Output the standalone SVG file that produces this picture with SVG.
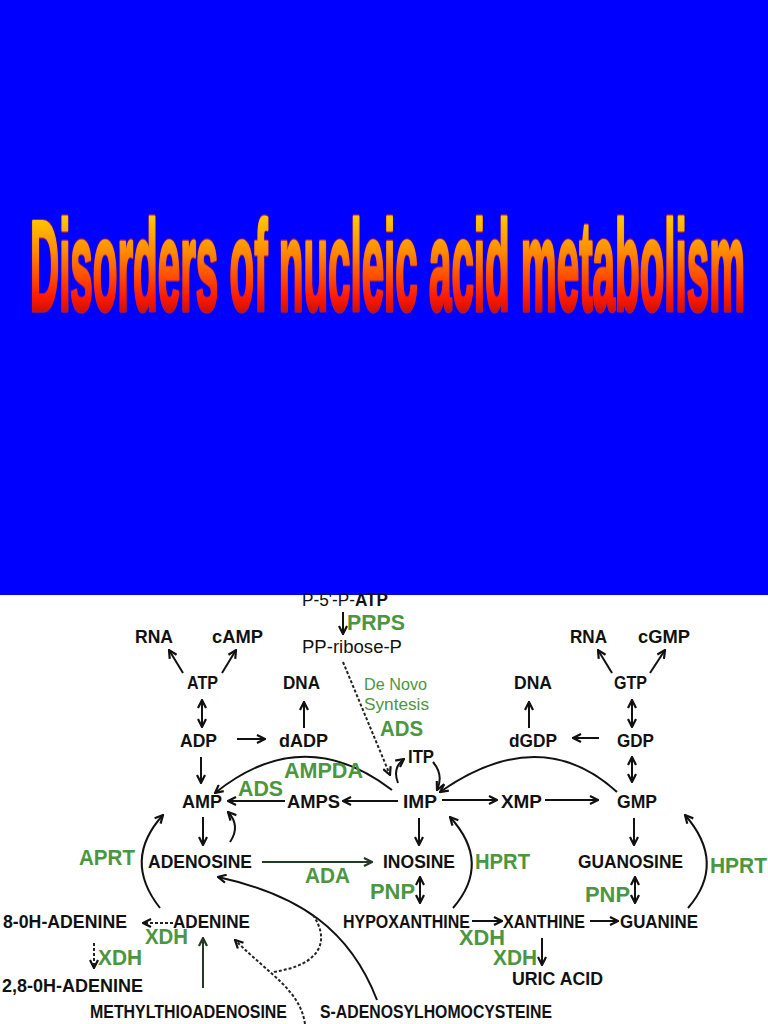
<svg xmlns="http://www.w3.org/2000/svg" width="768" height="1024" viewBox="0 0 768 1024">
<defs>
<linearGradient id="tg" gradientUnits="objectBoundingBox" x1="0" y1="0" x2="0" y2="1">
<stop offset="0.05" stop-color="#ffe400"/>
<stop offset="0.4" stop-color="#ff8c00"/>
<stop offset="0.72" stop-color="#ff1a00"/>
<stop offset="1" stop-color="#7a0000"/>
</linearGradient>
<marker id="ah" viewBox="0 0 10 10" refX="9" refY="5" markerWidth="10" markerHeight="10" markerUnits="userSpaceOnUse" orient="auto-start-reverse">
<path d="M1,1 L9,5 L1,9" fill="none" stroke="#111" stroke-width="2.2" stroke-linejoin="miter"/>
</marker>
<marker id="ahg" viewBox="0 0 10 10" refX="9" refY="5" markerWidth="10" markerHeight="10" markerUnits="userSpaceOnUse" orient="auto-start-reverse">
<path d="M1,1 L9,5 L1,9" fill="none" stroke="#243a24" stroke-width="2.2"/>
</marker>
</defs>
<style>
.t{font-family:"Liberation Sans",Arial,sans-serif;font-weight:bold;font-size:17.5px;fill:#111;text-anchor:middle}
.r{font-family:"Liberation Sans",Arial,sans-serif;font-size:17.5px;fill:#111;text-anchor:middle}
.g{font-family:"Liberation Sans",Arial,sans-serif;font-weight:bold;font-size:22px;fill:#4b963e;text-anchor:middle}
.gr{font-family:"Liberation Sans",Arial,sans-serif;font-size:16.5px;fill:#4b963e;text-anchor:middle}
.ttl{font-family:"Liberation Sans",Arial,sans-serif;font-weight:bold;font-size:40px}
.c{fill:none;stroke:#111;stroke-width:2;marker-end:url(#ah)}
.d{fill:none;stroke:#111;stroke-width:2;marker-end:url(#ah);marker-start:url(#ah)}
.cd{fill:none;stroke:#222;stroke-width:2;stroke-dasharray:3 2;marker-end:url(#ah)}
.cg{fill:none;stroke:#243a24;stroke-width:2;marker-end:url(#ahg)}
.pl{fill:none;stroke:#222;stroke-width:2;stroke-dasharray:3 2}
</style>
<rect x="0" y="0" width="768" height="595" fill="#0000ff"/>
<rect x="0" y="595" width="768" height="429" fill="#ffffff"/>
<g id="title" transform="translate(30,310) scale(1,3.2)">
<text class="ttl" x="0" y="0" textLength="715" lengthAdjust="spacingAndGlyphs" fill="url(#tg)" stroke="#a01c5c" stroke-width="4" stroke-linejoin="round" vector-effect="non-scaling-stroke">Disorders of nucleic acid metabolism</text>
<text class="ttl" x="0" y="0" textLength="715" lengthAdjust="spacingAndGlyphs" fill="url(#tg)" stroke="url(#tg)" stroke-width="2.4" stroke-linejoin="round" vector-effect="non-scaling-stroke">Disorders of nucleic acid metabolism</text>
</g>
<g id="connectors">
<path class="c" d="M183,673 L169,650"/>
<path class="c" d="M222,673 L236,650"/>
<path class="d" d="M202,700 L202,727"/>
<path class="c" d="M237,739 L265,739"/>
<path class="c" d="M304,728 L304,702"/>
<path class="c" d="M201,757 L201,783"/>
<path class="c" d="M392,790 Q303,722 215,793"/>
<path class="c" d="M398,801 L343,801"/>
<path class="c" d="M285,801 L228,801"/>
<path class="cd" d="M343,662 L390,775"/>
<path class="c" d="M398,783 Q392,768 404,759"/>
<path class="c" d="M433,762 Q444,775 437,790"/>
<path class="c" d="M617,792 Q540,722 440,792"/>
<path class="c" d="M442,800 L497,800"/>
<path class="c" d="M545,800 L598,800"/>
<path class="c" d="M599,738 L573,738"/>
<path class="c" d="M529,728 L529,702"/>
<path class="c" d="M612,673 L598,650"/>
<path class="c" d="M650,673 L665,650"/>
<path class="d" d="M632,700 L632,727"/>
<path class="d" d="M632,757 L632,782"/>
<path class="c" d="M343,612 L343,634"/>
<path class="c" d="M203,817 L203,845"/>
<path class="c" d="M230,842 Q241,826 228,812"/>
<path class="c" d="M160,908 Q122,860 163,815"/>
<path class="cg" d="M262,862 L372,862"/>
<path class="c" d="M419,818 L419,845"/>
<path class="d" d="M420,877 L420,903"/>
<path class="c" d="M453,908 Q492,863 450,817"/>
<path class="c" d="M472,921 L502,921"/>
<path class="c" d="M590,921 L618,921"/>
<path class="c" d="M542,938 L542,965"/>
<path class="c" d="M634,818 L634,845"/>
<path class="d" d="M635,877 L635,903"/>
<path class="c" d="M688,908 Q727,863 685,815"/>
<path class="cd" d="M173,923 L143,923"/>
<path class="cd" d="M94,943 L94,968"/>
<path class="cg" d="M203,988 L203,938"/>
<path class="c" d="M377,1000 C350,930 300,895 218,877"/>
<path class="cd" d="M305,1024 C300,990 270,975 235,940"/>
<path class="pl" d="M313,915 C330,940 322,965 273,972"/>
</g>
<g id="n-p5patp"><text class="r" x="345" y="606" textLength="86" lengthAdjust="spacingAndGlyphs">P-5'-P-<tspan font-weight="bold">ATP</tspan></text></g>
<g id="n-prps"><text class="g" x="376" y="630" textLength="58" lengthAdjust="spacingAndGlyphs">PRPS</text></g>
<g id="n-ppribose"><text class="r" x="352" y="653" textLength="100" lengthAdjust="spacingAndGlyphs">PP-ribose-P</text></g>
<g id="n-denovo"><text class="gr" x="395.5" y="690" textLength="63" lengthAdjust="spacingAndGlyphs">De Novo</text><text class="gr" x="396.5" y="710" textLength="65" lengthAdjust="spacingAndGlyphs">Syntesis</text></g>
<g id="n-ads1"><text class="g" x="401.5" y="736" textLength="43" lengthAdjust="spacingAndGlyphs">ADS</text></g>
<g id="n-rna1"><text class="t" x="154" y="643" textLength="38" lengthAdjust="spacingAndGlyphs">RNA</text></g>
<g id="n-camp"><text class="t" x="237.5" y="643" textLength="51" lengthAdjust="spacingAndGlyphs">cAMP</text></g>
<g id="n-atp"><text class="t" x="202.5" y="689" textLength="31" lengthAdjust="spacingAndGlyphs">ATP</text></g>
<g id="n-dna1"><text class="t" x="301.5" y="689" textLength="37" lengthAdjust="spacingAndGlyphs">DNA</text></g>
<g id="n-adp"><text class="t" x="198.5" y="747" textLength="37" lengthAdjust="spacingAndGlyphs">ADP</text></g>
<g id="n-dadp"><text class="t" x="303.5" y="747" textLength="49" lengthAdjust="spacingAndGlyphs">dADP</text></g>
<g id="n-ampda"><text class="g" x="323.5" y="778" textLength="79" lengthAdjust="spacingAndGlyphs">AMPDA</text></g>
<g id="n-ads2"><text class="g" x="260.5" y="796" textLength="45" lengthAdjust="spacingAndGlyphs">ADS</text></g>
<g id="n-amp"><text class="t" x="202" y="808" textLength="40" lengthAdjust="spacingAndGlyphs">AMP</text></g>
<g id="n-amps"><text class="t" x="313.5" y="808" textLength="53" lengthAdjust="spacingAndGlyphs">AMPS</text></g>
<g id="n-itp"><text class="t" x="421" y="763" textLength="26" lengthAdjust="spacingAndGlyphs">ITP</text></g>
<g id="n-imp"><text class="t" x="420" y="808" textLength="34" lengthAdjust="spacingAndGlyphs">IMP</text></g>
<g id="n-xmp"><text class="t" x="521.5" y="808" textLength="41" lengthAdjust="spacingAndGlyphs">XMP</text></g>
<g id="n-gmp"><text class="t" x="637" y="808" textLength="40" lengthAdjust="spacingAndGlyphs">GMP</text></g>
<g id="n-rna2"><text class="t" x="588.5" y="643" textLength="37" lengthAdjust="spacingAndGlyphs">RNA</text></g>
<g id="n-cgmp"><text class="t" x="664" y="643" textLength="52" lengthAdjust="spacingAndGlyphs">cGMP</text></g>
<g id="n-gtp"><text class="t" x="630.5" y="689" textLength="33" lengthAdjust="spacingAndGlyphs">GTP</text></g>
<g id="n-dna2"><text class="t" x="533" y="689" textLength="38" lengthAdjust="spacingAndGlyphs">DNA</text></g>
<g id="n-dgdp"><text class="t" x="533" y="747" textLength="48" lengthAdjust="spacingAndGlyphs">dGDP</text></g>
<g id="n-gdp"><text class="t" x="635.5" y="747" textLength="37" lengthAdjust="spacingAndGlyphs">GDP</text></g>
<g id="n-aprt"><text class="g" x="107" y="865" textLength="56" lengthAdjust="spacingAndGlyphs">APRT</text></g>
<g id="n-adenosine"><text class="t" x="200" y="868" textLength="104" lengthAdjust="spacingAndGlyphs">ADENOSINE</text></g>
<g id="n-ada"><text class="g" x="327.5" y="883" textLength="45" lengthAdjust="spacingAndGlyphs">ADA</text></g>
<g id="n-inosine"><text class="t" x="419" y="868" textLength="72" lengthAdjust="spacingAndGlyphs">INOSINE</text></g>
<g id="n-hprt1"><text class="g" x="502.5" y="869" textLength="55" lengthAdjust="spacingAndGlyphs">HPRT</text></g>
<g id="n-guanosine"><text class="t" x="630.5" y="868" textLength="105" lengthAdjust="spacingAndGlyphs">GUANOSINE</text></g>
<g id="n-hprt2"><text class="g" x="738.5" y="873" textLength="57" lengthAdjust="spacingAndGlyphs">HPRT</text></g>
<g id="n-pnp1"><text class="g" x="392.5" y="899" textLength="45" lengthAdjust="spacingAndGlyphs">PNP</text></g>
<g id="n-pnp2"><text class="g" x="607.5" y="902" textLength="45" lengthAdjust="spacingAndGlyphs">PNP</text></g>
<g id="n-8ohadenine"><text class="t" x="65" y="928" textLength="124" lengthAdjust="spacingAndGlyphs">8-0H-ADENINE</text></g>
<g id="n-adenine"><text class="t" x="211.5" y="928" textLength="77" lengthAdjust="spacingAndGlyphs">ADENINE</text></g>
<g id="n-hypoxanthine"><text class="t" x="406.5" y="928" textLength="127" lengthAdjust="spacingAndGlyphs">HYPOXANTHINE</text></g>
<g id="n-xanthine"><text class="t" x="544" y="928" textLength="82" lengthAdjust="spacingAndGlyphs">XANTHINE</text></g>
<g id="n-guanine"><text class="t" x="659" y="928" textLength="78" lengthAdjust="spacingAndGlyphs">GUANINE</text></g>
<g id="n-xdh1"><text class="g" x="166.5" y="944" textLength="43" lengthAdjust="spacingAndGlyphs">XDH</text></g>
<g id="n-xdh2"><text class="g" x="120" y="965" textLength="44" lengthAdjust="spacingAndGlyphs">XDH</text></g>
<g id="n-xdh3"><text class="g" x="482" y="945" textLength="46" lengthAdjust="spacingAndGlyphs">XDH</text></g>
<g id="n-xdh4"><text class="g" x="515" y="965" textLength="44" lengthAdjust="spacingAndGlyphs">XDH</text></g>
<g id="n-28ohadenine"><text class="t" x="72.5" y="992" textLength="141" lengthAdjust="spacingAndGlyphs">2,8-0H-ADENINE</text></g>
<g id="n-uricacid"><text class="t" x="557.5" y="985" textLength="91" lengthAdjust="spacingAndGlyphs">URIC ACID</text></g>
<g id="n-mta"><text class="t" x="188.5" y="1018" textLength="197" lengthAdjust="spacingAndGlyphs">METHYLTHIOADENOSINE</text></g>
<g id="n-sah"><text class="t" x="436" y="1018" textLength="232" lengthAdjust="spacingAndGlyphs">S-ADENOSYLHOMOCYSTEINE</text></g>
</svg>
